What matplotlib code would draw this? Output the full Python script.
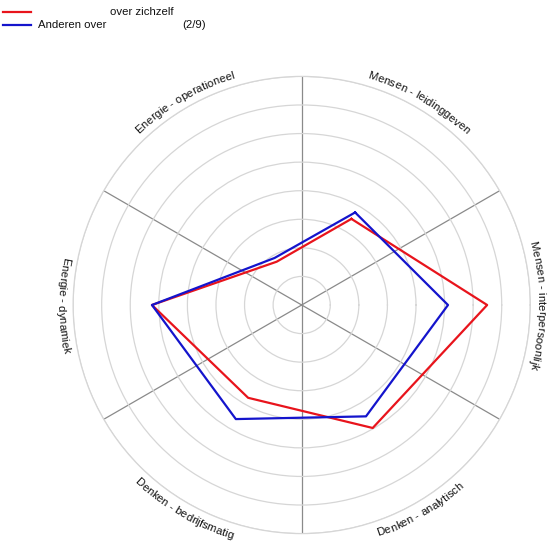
import numpy as np
import matplotlib
matplotlib.use("Agg")
import matplotlib.pyplot as plt
from matplotlib.lines import Line2D
from matplotlib.font_manager import FontProperties, findfont
from matplotlib.ft2font import FT2Font

try:
    from matplotlib.ft2font import LoadFlags
    NO_HINT = LoadFlags.NO_HINTING
except Exception:
    from matplotlib.ft2font import LOAD_NO_HINTING as NO_HINT

plt.rcParams['font.family'] = ['Liberation Sans', 'DejaVu Sans']

# ---- data ----
categories = ["Mensen - leidinggeven", "Mensen - interpersoonlijk", "Denken - analytisch",
              "Denken - bedrijfsmatig", "Energie - dynamiek", "Energie - operationeel"]
cat_angles_deg = [60, 0, 300, 240, 180, 120]
self_values = [3.48, 6.49, 4.97, 3.75, 5.24, 1.75]
others_values = [3.74, 5.12, 4.50, 4.61, 5.24, 1.90]
series_labels = ["over zichzelf", "Anderen over", "(2/9)"]
r_max = 8
ring_ticks = list(range(1, 9))
spoke_angles_deg = [30, 90, 150, 210, 270, 330]

W, H, DPI = 552, 555, 100
fig = plt.figure(figsize=(W / DPI, H / DPI), dpi=DPI)

cx, cy_top, R = 301.7, 305.0, 228.6
cy = H - cy_top
ax = fig.add_axes([(cx - R) / W, (cy - R) / H, 2 * R / W, 2 * R / H], projection='polar')
ax.set_ylim(0, r_max)
ax.set_yticks(ring_ticks)
ax.set_yticklabels([])
ax.set_xticks(np.deg2rad(spoke_angles_deg))
ax.set_xticklabels([])
ax.tick_params(length=0)
ax.xaxis.grid(True, color='#8a8a8a', lw=0.9)
ax.yaxis.grid(True, color='#d6d6d6', lw=0.9)
ax.spines['polar'].set_color('#d6d6d6')
ax.spines['polar'].set_linewidth(0.9)
ax.set_facecolor('white')

th = np.deg2rad(cat_angles_deg + cat_angles_deg[:1])
ax.plot(th, self_values + self_values[:1], color='#e8141c', lw=1.6, zorder=5)
ax.plot(th, others_values + others_values[:1], color='#1414cc', lw=1.6, zorder=6)

# ---- curved category labels ----
fs = 8.2
prop = FontProperties(family=['Liberation Sans', 'DejaVu Sans'], size=fs)
font = FT2Font(findfont(FontProperties(family='Liberation Sans')))
font.set_size(fs, DPI)
px_per_unit = R / r_max


def glyph_metrics(ch):
    g = font.load_char(ord(ch), flags=NO_HINT)
    adv = g.linearHoriAdvance / 65536.0
    lsb = g.horiBearingX / 64.0
    w = g.width / 64.0
    return adv, lsb + w / 2.0


def curved(text, theta_c_deg, rc_px=240.0, off=3.8):
    outward = 0 <= (theta_c_deg % 360) < 180
    rb = rc_px - off if outward else rc_px + off
    mets = [glyph_metrics(c) for c in text]
    total = sum(m[0] for m in mets)
    pos = 0.0
    for ch, (adv, inkc) in zip(text, mets):
        if ch != ' ':
            s = pos + inkc - total / 2
            dth = np.rad2deg(s / rb)
            if outward:
                t = theta_c_deg - dth
                rot = t - 90
            else:
                t = theta_c_deg + dth
                rot = t + 90
            ax.text(np.deg2rad(t), rb / px_per_unit, ch, fontproperties=prop,
                    rotation=rot, rotation_mode='anchor', ha='center', va='baseline',
                    color='#111111', clip_on=False)
        pos += adv


for lab, a in zip(categories, cat_angles_deg):
    curved(lab, a)

# ---- legend ----
fig.add_artist(Line2D([3 / W, 31 / W], [1 - 11.7 / H] * 2, transform=fig.transFigure,
                      color='#e8141c', lw=1.6))
fig.add_artist(Line2D([3 / W, 31 / W], [1 - 25 / H] * 2, transform=fig.transFigure,
                      color='#1414cc', lw=1.6))
fig.text(109.5 / W, 1 - 11.7 / H, series_labels[0], fontproperties=prop, va='center', ha='left', color='#111111')
fig.text(38.3 / W, 1 - 25 / H, series_labels[1], fontproperties=prop, va='center', ha='left', color='#111111')
fig.text(182 / W, 1 - 25 / H, series_labels[2], fontproperties=prop, va='center', ha='left', color='#111111')

fig.savefig("out.png", dpi=DPI, facecolor='white')
